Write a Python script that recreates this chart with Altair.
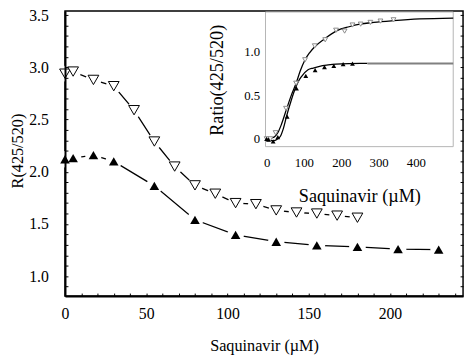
import altair as alt
import pandas as pd

FONT = "Liberation Serif"

# ---- main plot data (Saquinavir µM vs R(425/520)) ----
open_x = [0, 5, 17.5, 30, 42.5, 55, 67.5, 80, 92.5, 105, 117.5, 130, 142.5, 155, 167.5, 180]
open_y = [2.94, 2.96, 2.88, 2.82, 2.59, 2.29, 2.05, 1.87, 1.79, 1.70, 1.69, 1.63, 1.61, 1.60, 1.58, 1.56]

filled_x = [0, 5, 17.5, 30, 55, 80, 105, 130, 155, 180, 205, 230]
filled_y = [2.12, 2.13, 2.16, 2.10, 1.865, 1.54, 1.395, 1.33, 1.295, 1.28, 1.26, 1.255]

# ---- inset data (Ratio change) ----
ins_open_x = [0, 10, 24, 52, 79, 103, 129, 157, 186, 209, 230, 252, 278, 305, 340]
ins_open_y = [0.0, 0.0, 0.07, 0.35, 0.64, 0.91, 1.07, 1.14, 1.25, 1.24, 1.31, 1.32, 1.34, 1.355, 1.37]

ins_fill_x = [0, 5, 17.5, 30, 55, 80, 105, 130, 155, 180, 205, 230]
ins_fill_y = [0.0, -0.01, -0.03, 0.02, 0.255, 0.58, 0.725, 0.79, 0.825, 0.84, 0.86, 0.865]

fit_open_x = [0, 20, 30, 40, 54, 66, 79, 90, 103, 115, 129, 155, 186, 221, 250, 287, 340, 410, 500]
fit_open_y = [0.0, 0.02, 0.07, 0.17, 0.35, 0.50, 0.64, 0.78, 0.91, 0.99, 1.06, 1.15, 1.24, 1.29, 1.32, 1.34, 1.36, 1.38, 1.39]

fit_fill_x = [0, 20, 30, 37, 45, 54, 65, 76, 85, 94, 111, 125, 142, 165, 186, 220, 270]
fit_fill_y = [-0.02, -0.02, 0.0, 0.03, 0.12, 0.27, 0.43, 0.57, 0.66, 0.72, 0.795, 0.815, 0.835, 0.85, 0.86, 0.866, 0.868]

fit_ext_x = [270, 500]
fit_ext_y = [0.868, 0.868]

x_ticks_main = [0, 50, 100, 150, 200]
y_ticks_main = [1.0, 1.5, 2.0, 2.5, 3.0, 3.5]
x_minor_main = list(range(0, 250, 10))
y_minor_main = [round(0.9 + 0.1 * i, 1) for i in range(27)]
x_ticks_in = [0, 100, 200, 300, 400]
y_ticks_in = [0, 0.5, 1.0]

W, H = 405, 290

df_open = pd.DataFrame({"x": open_x, "y": open_y})
df_fill = pd.DataFrame({"x": filled_x, "y": filled_y})
df_io = pd.DataFrame({"x": ins_open_x, "y": ins_open_y})
df_if = pd.DataFrame({"x": ins_fill_x, "y": ins_fill_y})
df_fo = pd.DataFrame({"x": fit_open_x, "y": fit_open_y})
df_ff = pd.DataFrame({"x": fit_fill_x, "y": fit_fill_y})
df_fe = pd.DataFrame({"x": fit_ext_x, "y": fit_ext_y})
df_frame = pd.DataFrame({"x0": [-3], "x1": [500], "y0": [-0.09], "y1": [1.46]})


def xs():
    return alt.Scale(domain=[0, 245], nice=False, zero=False)


def ys():
    return alt.Scale(domain=[0.81, 3.54], nice=False, zero=False)


def xi():
    return alt.Scale(domain=[-3, 500], range=[204, 395], nice=False, zero=False)


def yi():
    return alt.Scale(domain=[-0.09, 1.46], range=[138, 1], nice=False, zero=False)


ax_x = alt.Axis(orient="bottom", values=x_ticks_main, format="d", ticks=False, grid=False,
                domainColor="black", domainWidth=2, labelFont=FONT, labelFontSize=16,
                labelColor="black", labelPadding=10, labelFlush=False,
                title="Saquinavir (µM)", titleFont=FONT, titleFontSize=16.5,
                titleFontWeight="normal", titleColor="black", titleY=55,
                titleBaseline="alphabetic", zindex=1)
ax_y = alt.Axis(orient="left", values=y_ticks_main, format=".1f", ticks=False, grid=False,
                domainColor="black", domainWidth=2, labelFont=FONT, labelFontSize=16,
                labelColor="black", labelPadding=17, labelFlush=False,
                title="R(425/520)", titleFont=FONT, titleFontSize=16.5,
                titleFontWeight="normal", titleColor="black", titleX=-48, titleY=142,
                titleAngle=270, titleBaseline="middle", titleAlign="center", zindex=1)

ax_xt = alt.Axis(orient="top", offset=-H, values=x_minor_main, labels=False, domain=False,
                 grid=False, tickSize=3, tickColor="black", tickWidth=1, title=None, zindex=1)
ax_yt = alt.Axis(orient="right", offset=-W, values=y_minor_main, labels=False, domain=False,
                 grid=False, tickSize=3, tickColor="black", tickWidth=1, title=None, zindex=1)
ax_yt2 = alt.Axis(orient="left", offset=-W, values=y_minor_main, labels=False, domain=False,
                  grid=False, tickSize=3, tickColor="black", tickWidth=1, title=None, zindex=1)

ax_xi = alt.Axis(orient="bottom", offset=-152, values=x_ticks_in, format="d", ticks=False, domain=False,
                 grid=False, labelFont=FONT, labelFontSize=13, labelColor="black", labelPadding=10,
                 labelFlush=False, title="Saquinavir (µM)", titleFont=FONT, titleFontSize=18.5,
                 titleFontWeight="normal", titleColor="black", titleX=299.5, titleY=56,
                 titleBaseline="alphabetic", titleAlign="center", zindex=1)
ax_yi = alt.Axis(orient="left", offset=-204, values=y_ticks_in, ticks=False, domain=False, grid=False,
                 labelExpr="datum.value == 0 ? '0' : format(datum.value, '.1f')",
                 labelFont=FONT, labelFontSize=13, labelColor="black", labelPadding=6, labelFlush=False,
                 title="Ratio(425/520)", titleFont=FONT, titleFontSize=18.5, titleFontWeight="normal",
                 titleColor="black", titleX=-50, titleY=70, titleAngle=270, titleBaseline="middle",
                 titleAlign="center", zindex=1)


def enc(ch, xa=None, ya=None):
    return ch.encode(x=alt.X("x:Q", scale=xs(), axis=xa), y=alt.Y("y:Q", scale=ys(), axis=ya))


def enci(ch, xa=None, ya=None):
    return ch.encode(x=alt.X("x:Q", scale=xi(), axis=xa), y=alt.Y("y:Q", scale=yi(), axis=ya))


line_open = enc(alt.Chart(df_open).mark_line(color="black", strokeWidth=1.3), ax_x, ax_y)
line_fill = enc(alt.Chart(df_fill).mark_line(color="black", strokeWidth=1.3))
halo_open = enc(alt.Chart(df_open).mark_point(shape="circle", size=256, filled=True, color="white", opacity=1))
halo_fill = enc(alt.Chart(df_fill).mark_point(shape="circle", size=289, filled=True, color="white", opacity=1))
mk_open = enc(alt.Chart(df_open).mark_point(shape="triangle-down", size=120, filled=True, fill="white",
                                             stroke="black", strokeWidth=1, opacity=1))
mk_fill = enc(alt.Chart(df_fill).mark_point(shape="triangle-up", size=95, filled=True, color="black", opacity=1))
ticks1 = enc(alt.Chart(df_open).mark_point(opacity=0), ax_xt, ax_yt)
ticks2 = enc(alt.Chart(df_open).mark_point(opacity=0), None, ax_yt2)

frame = alt.Chart(df_frame).mark_rect(fill="white", stroke="#b5b5b5", strokeWidth=1).encode(
    x=alt.X("x0:Q", scale=xi(), axis=None), x2="x1", y=alt.Y("y0:Q", scale=yi(), axis=None), y2="y1")
fit_o = enci(alt.Chart(df_fo).mark_line(color="black", strokeWidth=1.3, interpolate="monotone"), ax_xi, ax_yi)
fit_f = enci(alt.Chart(df_ff).mark_line(color="black", strokeWidth=1.3, interpolate="monotone"))
fit_e = enci(alt.Chart(df_fe).mark_line(color="#808080", strokeWidth=2))
pt_o = enci(alt.Chart(df_io).mark_point(shape="triangle-down", size=24, filled=True, fill="white",
                                         stroke="#8a8a8a", strokeWidth=1, opacity=1))
pt_f = enci(alt.Chart(df_if).mark_point(shape="triangle-up", size=24, filled=True, color="black", opacity=1))

chart = alt.layer(
    line_open, line_fill, halo_open, halo_fill, mk_open, mk_fill, ticks1, ticks2,
    frame, fit_o, fit_f, fit_e, pt_o, pt_f,
).resolve_scale(x="independent", y="independent").resolve_axis(
    x="independent", y="independent").properties(
    width=W, height=H,
    padding={"left": 58, "top": 0, "right": 3, "bottom": 60},
    autosize=alt.AutoSizeParams(type="none"),
    background="white",
).configure(font=FONT).configure_axis(labelFont=FONT, titleFont=FONT).configure_view(
    stroke="black", strokeWidth=1.5)

chart.save("out.html", embed_options={"renderer": "svg", "actions": False})
